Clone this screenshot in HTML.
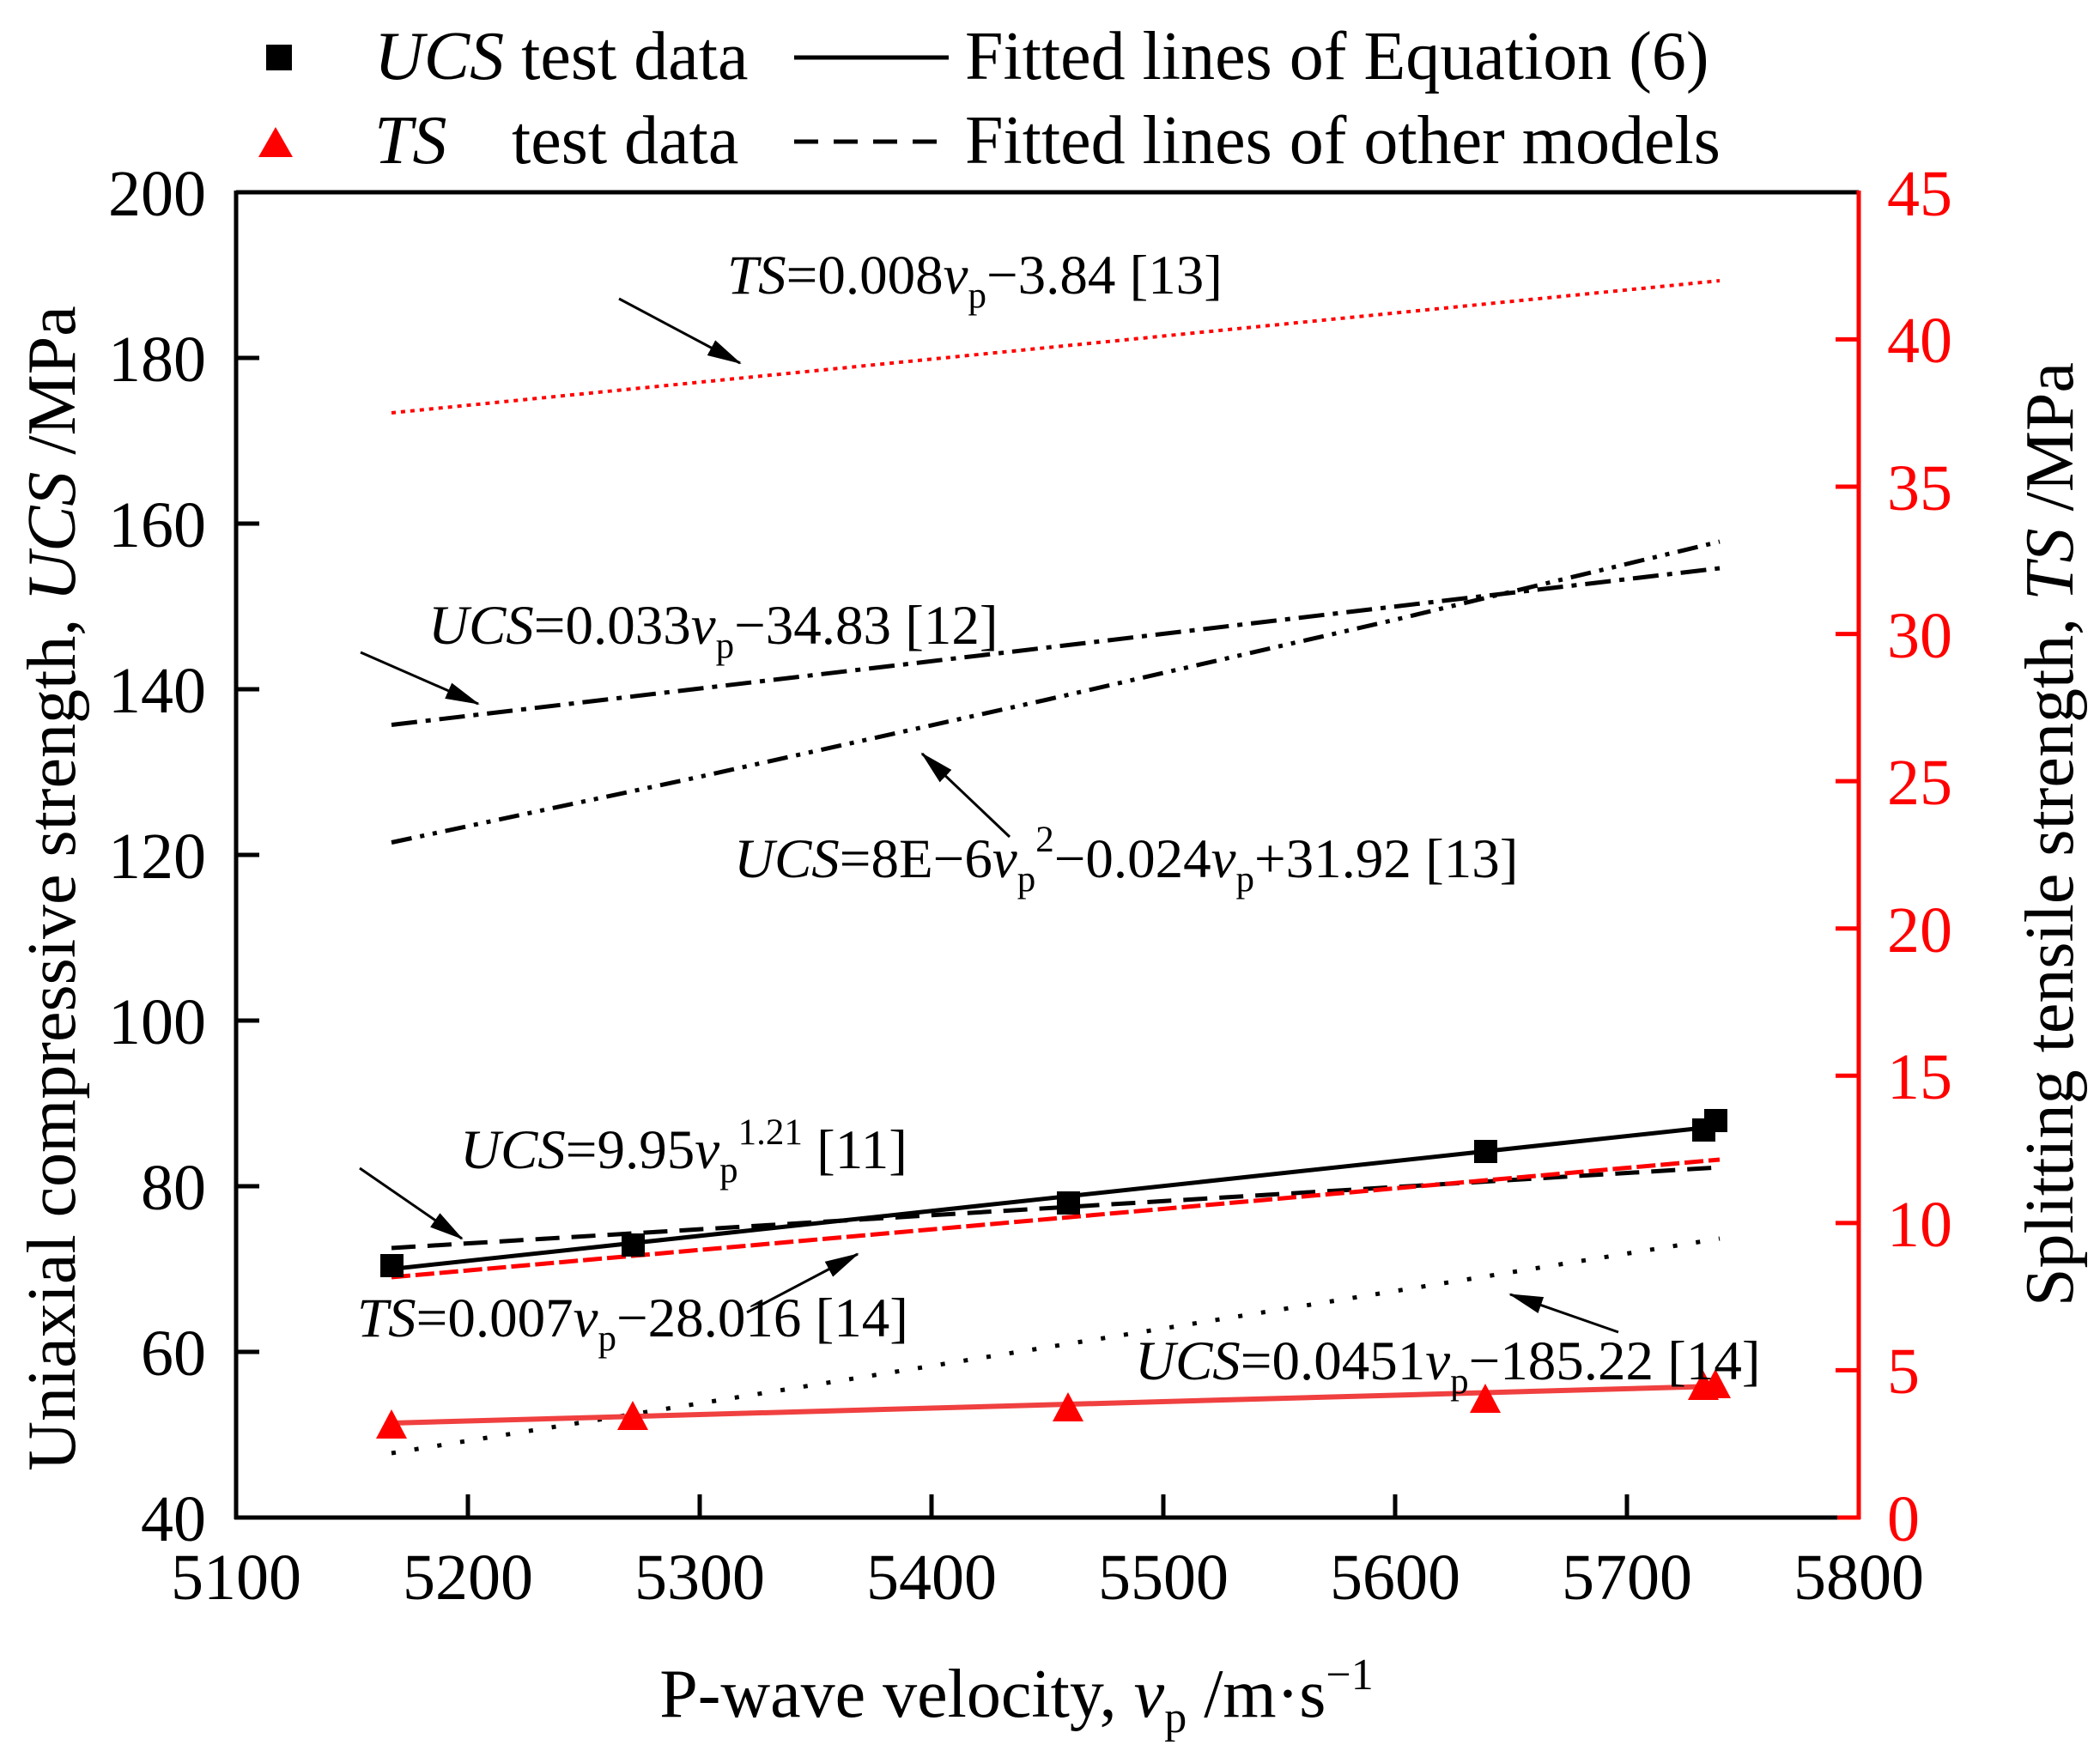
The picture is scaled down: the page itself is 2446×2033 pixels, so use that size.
<!DOCTYPE html>
<html><head><meta charset="utf-8"><style>
html,body{margin:0;padding:0;background:#fff}
svg{display:block}
text{font-family:"Liberation Serif",serif}
</style></head><body>
<svg width="2446" height="2033" viewBox="0 0 2446 2033" xmlns="http://www.w3.org/2000/svg">
<defs>
<marker id="ah2" viewBox="0 0 40 24" refX="38" refY="12" markerWidth="40" markerHeight="24" orient="auto" markerUnits="userSpaceOnUse"><path d="M0,2 L40,12 L0,22 z" fill="#000"/></marker>
</defs>
<!-- Legend -->
<rect x="310" y="52" width="30" height="30" fill="#000"/>
<text x="436" y="92" font-size="80"><tspan font-style="italic">UCS</tspan> test data</text>
<line x1="925" y1="67" x2="1105" y2="67" stroke="#000" stroke-width="5"/>
<text x="1124" y="92" font-size="80">Fitted lines of Equation (6)</text>
<path d="M301,183 L321,148 L341,183 z" fill="#f00"/>
<text x="436" y="190" font-size="80" font-style="italic">TS</text>
<text x="596" y="190" font-size="80">test data</text>
<line x1="925" y1="165" x2="1105" y2="165" stroke="#000" stroke-width="5" stroke-dasharray="28,18"/>
<text x="1124" y="190" font-size="80">Fitted lines of other models</text>

<!-- series -->
<line x1="456" y1="481" x2="2003" y2="327" stroke="#f00" stroke-width="4" stroke-dasharray="5,6"/>
<line x1="456" y1="844.5" x2="2003" y2="662" stroke="#000" stroke-width="5" stroke-dasharray="30,10,6,10"/>
<polyline points="456,981.5 815,905 1220,815 1625,722 2003,631" fill="none" stroke="#000" stroke-width="5" stroke-dasharray="24,10,5,10,5,10"/>
<line x1="456" y1="1454" x2="2003" y2="1360" stroke="#000" stroke-width="5" stroke-dasharray="28,14"/>
<line x1="456" y1="1693" x2="2003" y2="1443" stroke="#000" stroke-width="5" stroke-dasharray="5,22"/>
<line x1="456" y1="1478.5" x2="1998" y2="1312.5" stroke="#000" stroke-width="5"/>
<line x1="456" y1="1488" x2="2003" y2="1351" stroke="#f00" stroke-width="5" stroke-dasharray="22,6"/>
<line x1="456" y1="1658" x2="2000" y2="1615" stroke="#f04040" stroke-width="6"/>
<g fill="#000">
<rect x="443" y="1461" width="27" height="27"/>
<rect x="724" y="1437" width="27" height="27"/>
<rect x="1231" y="1388" width="27" height="27"/>
<rect x="1717" y="1328" width="27" height="27"/>
<rect x="1971" y="1303" width="27" height="27"/>
<rect x="1985" y="1292" width="27" height="27"/>
</g>
<g fill="#f00">
<path d="M438,1676 L456,1642 L474,1676 z"/>
<path d="M719,1666 L737,1632 L755,1666 z"/>
<path d="M1226,1656 L1244,1622 L1262,1656 z"/>
<path d="M1712,1646 L1730,1612 L1748,1646 z"/>
<path d="M1966,1631 L1984,1597 L2002,1631 z"/>
<path d="M1980,1629 L1998,1595 L2016,1629 z"/>
</g>

<!-- annotations -->
<g font-size="65">
<text x="847" y="342"><tspan font-style="italic">TS</tspan>=0.008<tspan font-style="italic">v</tspan><tspan font-size="43" dy="16">p</tspan><tspan dy="-16">−3.84 [13]</tspan></text>
<text x="499" y="750"><tspan font-style="italic">UCS</tspan>=0.033<tspan font-style="italic">v</tspan><tspan font-size="43" dy="16">p</tspan><tspan dy="-16">−34.83 [12]</tspan></text>
<text x="855" y="1022"><tspan font-style="italic">UCS</tspan>=8E−6<tspan font-style="italic">v</tspan><tspan font-size="43" dy="16">p</tspan><tspan font-size="43" dy="-46">2</tspan><tspan dy="30">−0.024</tspan><tspan font-style="italic">v</tspan><tspan font-size="43" dy="16">p</tspan><tspan dy="-16">+31.92 [13]</tspan></text>
<text x="536" y="1361"><tspan font-style="italic">UCS</tspan>=9.95<tspan font-style="italic">v</tspan><tspan font-size="43" dy="16">p</tspan><tspan font-size="43" dy="-44">1.21</tspan><tspan dy="28"> [11]</tspan></text>
<text x="416" y="1557"><tspan font-style="italic">TS</tspan>=0.007<tspan font-style="italic">v</tspan><tspan font-size="43" dy="16">p</tspan><tspan dy="-16">−28.016 [14]</tspan></text>
<text x="1322" y="1607"><tspan font-style="italic">UCS</tspan>=0.0451<tspan font-style="italic">v</tspan><tspan font-size="43" dy="16">p</tspan><tspan dy="-16">−185.22 [14]</tspan></text>
</g>
<g stroke="#000" stroke-width="3" marker-end="url(#ah2)">
<line x1="721" y1="348" x2="862" y2="423"/>
<line x1="420" y1="760" x2="557" y2="820"/>
<line x1="1176" y1="975" x2="1074" y2="878"/>
<line x1="419" y1="1361" x2="538" y2="1443"/>
<line x1="870" y1="1529" x2="999" y2="1461"/>
<line x1="1885" y1="1552" x2="1759" y2="1508"/>
</g>

<!-- axes -->
<g stroke="#000" stroke-width="5">
<line x1="275" y1="224" x2="2165" y2="224"/>
<line x1="275" y1="222" x2="275" y2="1770"/>
<line x1="273" y1="1768" x2="2140" y2="1768"/>
<path d="M275,1575h27M275,1382h27M275,1189h27M275,996h27M275,803h27M275,610h27M275,417h27"/>
<path d="M545,1768v-27M815,1768v-27M1085,1768v-27M1355,1768v-27M1625,1768v-27M1895,1768v-27"/>
</g>
<g stroke="#f00" stroke-width="5">
<line x1="2140" y1="1768" x2="2167" y2="1768"/>
<line x1="2165" y1="222" x2="2165" y2="1770"/>
<path d="M2165,1596.4h-27M2165,1424.9h-27M2165,1253.3h-27M2165,1081.7h-27M2165,910.1h-27M2165,738.6h-27M2165,567h-27M2165,395.4h-27"/>
</g>
<g font-size="76" text-anchor="end">
<text x="240" y="1795">40</text><text x="240" y="1602">60</text><text x="240" y="1409">80</text>
<text x="240" y="1216">100</text><text x="240" y="1023">120</text><text x="240" y="830">140</text>
<text x="240" y="637">160</text><text x="240" y="444">180</text><text x="240" y="251">200</text>
</g>
<g font-size="76" text-anchor="middle">
<text x="275" y="1863">5100</text><text x="545" y="1863">5200</text><text x="815" y="1863">5300</text>
<text x="1085" y="1863">5400</text><text x="1355" y="1863">5500</text><text x="1625" y="1863">5600</text>
<text x="1895" y="1863">5700</text><text x="2165" y="1863">5800</text>
</g>
<g font-size="76" fill="#f00">
<text x="2198" y="1795">0</text><text x="2198" y="1623">5</text><text x="2198" y="1452">10</text>
<text x="2198" y="1280">15</text><text x="2198" y="1109">20</text><text x="2198" y="937">25</text>
<text x="2198" y="766">30</text><text x="2198" y="594">35</text><text x="2198" y="422">40</text>
<text x="2198" y="251">45</text>
</g>
<text x="1184" y="2000" font-size="80" text-anchor="middle">P-wave velocity, <tspan font-style="italic">v</tspan><tspan font-size="52" dy="18">p</tspan><tspan dy="-18"> /m·s</tspan><tspan font-size="52" dy="-32">−1</tspan></text>
<text transform="translate(87,1035) rotate(-90)" font-size="80" text-anchor="middle">Uniaxial compressive strength, <tspan font-style="italic">UCS</tspan> /MPa</text>
<text transform="translate(2414,972) rotate(-90)" font-size="80" text-anchor="middle">Splitting tensile strength, <tspan font-style="italic">TS</tspan> /MPa</text>
</svg>
</body></html>
